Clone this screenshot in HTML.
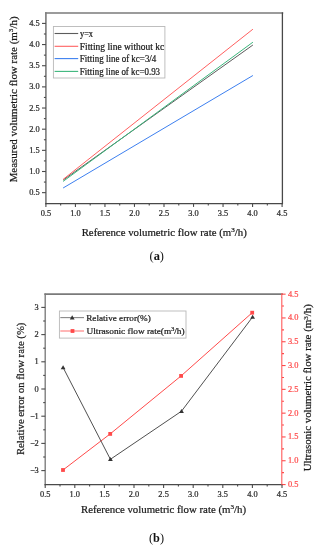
<!DOCTYPE html>
<html><head><meta charset="utf-8"><title>Figure</title>
<style>
html,body{margin:0;padding:0;background:#fff;}
body{width:324px;height:550px;overflow:hidden;}
svg{display:block;}
text{font-family:"Liberation Serif", "DejaVu Serif", serif;stroke-width:0.22px;}
.tk{font-size:8.4px;fill:#2a2a2a;stroke:#2a2a2a;}
</style></head>
<body>
<svg width="324" height="550" viewBox="0 0 324 550">
<rect width="324" height="550" fill="#fff"/>
<line x1="45.90" y1="13.00" x2="282.40" y2="13.00" stroke="#7a7a7a" stroke-width="1.7" stroke-linecap="square"/>
<line x1="282.40" y1="13.00" x2="282.40" y2="203.50" stroke="#484848" stroke-width="1.3" stroke-linecap="square"/>
<line x1="45.90" y1="13.00" x2="45.90" y2="203.50" stroke="#7e7e7e" stroke-width="1.65" stroke-linecap="square"/>
<line x1="45.90" y1="203.50" x2="282.40" y2="203.50" stroke="#484848" stroke-width="1.25" stroke-linecap="square"/>
<line x1="42.00" y1="192.65" x2="45.90" y2="192.65" stroke="#4a4a4a" stroke-width="1.1"/>
<text x="39.6" y="195.15" text-anchor="end" class="tk">0.5</text>
<line x1="43.90" y1="182.07" x2="45.90" y2="182.07" stroke="#4a4a4a" stroke-width="1.1"/>
<line x1="42.00" y1="171.50" x2="45.90" y2="171.50" stroke="#4a4a4a" stroke-width="1.1"/>
<text x="39.6" y="174.00" text-anchor="end" class="tk">1.0</text>
<line x1="43.90" y1="160.92" x2="45.90" y2="160.92" stroke="#4a4a4a" stroke-width="1.1"/>
<line x1="42.00" y1="150.34" x2="45.90" y2="150.34" stroke="#4a4a4a" stroke-width="1.1"/>
<text x="39.6" y="152.84" text-anchor="end" class="tk">1.5</text>
<line x1="43.90" y1="139.76" x2="45.90" y2="139.76" stroke="#4a4a4a" stroke-width="1.1"/>
<line x1="42.00" y1="129.19" x2="45.90" y2="129.19" stroke="#4a4a4a" stroke-width="1.1"/>
<text x="39.6" y="131.69" text-anchor="end" class="tk">2.0</text>
<line x1="43.90" y1="118.61" x2="45.90" y2="118.61" stroke="#4a4a4a" stroke-width="1.1"/>
<line x1="42.00" y1="108.03" x2="45.90" y2="108.03" stroke="#4a4a4a" stroke-width="1.1"/>
<text x="39.6" y="110.53" text-anchor="end" class="tk">2.5</text>
<line x1="43.90" y1="97.45" x2="45.90" y2="97.45" stroke="#4a4a4a" stroke-width="1.1"/>
<line x1="42.00" y1="86.88" x2="45.90" y2="86.88" stroke="#4a4a4a" stroke-width="1.1"/>
<text x="39.6" y="89.38" text-anchor="end" class="tk">3.0</text>
<line x1="43.90" y1="76.30" x2="45.90" y2="76.30" stroke="#4a4a4a" stroke-width="1.1"/>
<line x1="42.00" y1="65.72" x2="45.90" y2="65.72" stroke="#4a4a4a" stroke-width="1.1"/>
<text x="39.6" y="68.22" text-anchor="end" class="tk">3.5</text>
<line x1="43.90" y1="55.14" x2="45.90" y2="55.14" stroke="#4a4a4a" stroke-width="1.1"/>
<line x1="42.00" y1="44.56" x2="45.90" y2="44.56" stroke="#4a4a4a" stroke-width="1.1"/>
<text x="39.6" y="47.06" text-anchor="end" class="tk">4.0</text>
<line x1="43.90" y1="33.99" x2="45.90" y2="33.99" stroke="#4a4a4a" stroke-width="1.1"/>
<line x1="42.00" y1="23.41" x2="45.90" y2="23.41" stroke="#4a4a4a" stroke-width="1.1"/>
<text x="39.6" y="25.91" text-anchor="end" class="tk">4.5</text>
<line x1="45.90" y1="203.50" x2="45.90" y2="206.90" stroke="#4a4a4a" stroke-width="1.1"/>
<text x="45.90" y="215.7" text-anchor="middle" class="tk">0.5</text>
<line x1="60.66" y1="203.50" x2="60.66" y2="205.50" stroke="#4a4a4a" stroke-width="1.1"/>
<line x1="75.42" y1="203.50" x2="75.42" y2="206.90" stroke="#4a4a4a" stroke-width="1.1"/>
<text x="75.42" y="215.7" text-anchor="middle" class="tk">1.0</text>
<line x1="90.19" y1="203.50" x2="90.19" y2="205.50" stroke="#4a4a4a" stroke-width="1.1"/>
<line x1="104.95" y1="203.50" x2="104.95" y2="206.90" stroke="#4a4a4a" stroke-width="1.1"/>
<text x="104.95" y="215.7" text-anchor="middle" class="tk">1.5</text>
<line x1="119.71" y1="203.50" x2="119.71" y2="205.50" stroke="#4a4a4a" stroke-width="1.1"/>
<line x1="134.47" y1="203.50" x2="134.47" y2="206.90" stroke="#4a4a4a" stroke-width="1.1"/>
<text x="134.47" y="215.7" text-anchor="middle" class="tk">2.0</text>
<line x1="149.24" y1="203.50" x2="149.24" y2="205.50" stroke="#4a4a4a" stroke-width="1.1"/>
<line x1="164.00" y1="203.50" x2="164.00" y2="206.90" stroke="#4a4a4a" stroke-width="1.1"/>
<text x="164.00" y="215.7" text-anchor="middle" class="tk">2.5</text>
<line x1="178.76" y1="203.50" x2="178.76" y2="205.50" stroke="#4a4a4a" stroke-width="1.1"/>
<line x1="193.53" y1="203.50" x2="193.53" y2="206.90" stroke="#4a4a4a" stroke-width="1.1"/>
<text x="193.53" y="215.7" text-anchor="middle" class="tk">3.0</text>
<line x1="208.29" y1="203.50" x2="208.29" y2="205.50" stroke="#4a4a4a" stroke-width="1.1"/>
<line x1="223.05" y1="203.50" x2="223.05" y2="206.90" stroke="#4a4a4a" stroke-width="1.1"/>
<text x="223.05" y="215.7" text-anchor="middle" class="tk">3.5</text>
<line x1="237.81" y1="203.50" x2="237.81" y2="205.50" stroke="#4a4a4a" stroke-width="1.1"/>
<line x1="252.57" y1="203.50" x2="252.57" y2="206.90" stroke="#4a4a4a" stroke-width="1.1"/>
<text x="252.57" y="215.7" text-anchor="middle" class="tk">4.0</text>
<line x1="267.34" y1="203.50" x2="267.34" y2="205.50" stroke="#4a4a4a" stroke-width="1.1"/>
<line x1="282.10" y1="203.50" x2="282.10" y2="206.90" stroke="#4a4a4a" stroke-width="1.1"/>
<text x="282.10" y="215.7" text-anchor="middle" class="tk">4.5</text>
<line x1="63.10" y1="180.10" x2="252.90" y2="45.00" stroke="#5c5c5c" stroke-width="1.0"/>
<line x1="63.10" y1="179.40" x2="252.90" y2="29.20" stroke="#ff6060" stroke-width="1.0"/>
<line x1="63.10" y1="188.00" x2="252.90" y2="75.50" stroke="#3d80f0" stroke-width="1.0"/>
<line x1="63.10" y1="181.40" x2="252.90" y2="42.20" stroke="#3cb67c" stroke-width="1.0"/>
<rect x="53.4" y="26.5" width="111.5" height="51.5" fill="#fff" stroke="#b8b8b8" stroke-width="0.9"/>
<line x1="54.60" y1="33.50" x2="78.20" y2="33.50" stroke="#5c5c5c" stroke-width="1.1"/>
<line x1="54.60" y1="46.30" x2="78.20" y2="46.30" stroke="#ff6060" stroke-width="1.1"/>
<line x1="54.60" y1="58.60" x2="78.20" y2="58.60" stroke="#3d80f0" stroke-width="1.1"/>
<line x1="54.60" y1="71.40" x2="78.20" y2="71.40" stroke="#3cb67c" stroke-width="1.1"/>
<text transform="translate(80.00,36.90) scale(0.8966,1)" font-size="9.3" fill="#1a1a1a" stroke="#1a1a1a">y=x</text>
<text transform="translate(79.85,49.80) scale(1.0182,1)" font-size="9.3" fill="#1a1a1a" stroke="#1a1a1a">Fitting line without kc</text>
<text transform="translate(79.86,62.30) scale(0.9646,1)" font-size="9.3" fill="#1a1a1a" stroke="#1a1a1a">Fitting line of kc=3/4</text>
<text transform="translate(79.86,74.90) scale(0.9586,1)" font-size="9.3" fill="#1a1a1a" stroke="#1a1a1a">Fitting line of kc=0.93</text>
<text transform="translate(81.64,235.70) scale(1.0208,1)" font-size="10.6" fill="#1a1a1a" stroke="#1a1a1a">Reference volumetric flow rate (m<tspan font-size='7.00' dy='-3.82'>3</tspan><tspan dy='3.82'>/h)</tspan></text>
<text transform="translate(17.20,182.36) rotate(-90) scale(1.0535,1)" font-size="10.4" fill="#1a1a1a" stroke="#1a1a1a">Measured volumetric flow rate (m<tspan font-size='6.86' dy='-3.74'>3</tspan><tspan dy='3.74'>/h)</tspan></text>
<text style="stroke-width:0" transform="translate(149.50,259.80) scale(0.9926,1)" font-size="12.5" fill="#111" stroke="#111">(<tspan font-weight='bold'>a</tspan>)</text>
<line x1="45.20" y1="294.10" x2="282.00" y2="294.10" stroke="#7a7a7a" stroke-width="1.7" stroke-linecap="square"/>
<line x1="45.20" y1="294.10" x2="45.20" y2="484.55" stroke="#7a7a7a" stroke-width="1.35" stroke-linecap="square"/>
<line x1="45.20" y1="484.55" x2="282.00" y2="484.55" stroke="#4a4a4a" stroke-width="1.25" stroke-linecap="square"/>
<line x1="281.8" y1="293.3" x2="281.8" y2="485.35" stroke="#ff5a5a" stroke-width="1.1"/>
<line x1="41.30" y1="470.60" x2="45.20" y2="470.60" stroke="#4a4a4a" stroke-width="1.1"/>
<text x="38.7" y="473.10" text-anchor="end" class="tk">−<tspan dx="-0.7">3</tspan></text>
<line x1="41.30" y1="443.40" x2="45.20" y2="443.40" stroke="#4a4a4a" stroke-width="1.1"/>
<text x="38.7" y="445.90" text-anchor="end" class="tk">−<tspan dx="-0.7">2</tspan></text>
<line x1="41.30" y1="416.20" x2="45.20" y2="416.20" stroke="#4a4a4a" stroke-width="1.1"/>
<text x="38.7" y="418.70" text-anchor="end" class="tk">−<tspan dx="-0.7">1</tspan></text>
<line x1="41.30" y1="389.00" x2="45.20" y2="389.00" stroke="#4a4a4a" stroke-width="1.1"/>
<text x="38.7" y="391.50" text-anchor="end" class="tk">0</text>
<line x1="41.30" y1="361.80" x2="45.20" y2="361.80" stroke="#4a4a4a" stroke-width="1.1"/>
<text x="38.7" y="364.30" text-anchor="end" class="tk">1</text>
<line x1="41.30" y1="334.60" x2="45.20" y2="334.60" stroke="#4a4a4a" stroke-width="1.1"/>
<text x="38.7" y="337.10" text-anchor="end" class="tk">2</text>
<line x1="41.30" y1="307.40" x2="45.20" y2="307.40" stroke="#4a4a4a" stroke-width="1.1"/>
<text x="38.7" y="309.90" text-anchor="end" class="tk">3</text>
<line x1="43.20" y1="457.00" x2="45.20" y2="457.00" stroke="#4a4a4a" stroke-width="1.1"/>
<line x1="43.20" y1="429.80" x2="45.20" y2="429.80" stroke="#4a4a4a" stroke-width="1.1"/>
<line x1="43.20" y1="402.60" x2="45.20" y2="402.60" stroke="#4a4a4a" stroke-width="1.1"/>
<line x1="43.20" y1="375.40" x2="45.20" y2="375.40" stroke="#4a4a4a" stroke-width="1.1"/>
<line x1="43.20" y1="348.20" x2="45.20" y2="348.20" stroke="#4a4a4a" stroke-width="1.1"/>
<line x1="43.20" y1="321.00" x2="45.20" y2="321.00" stroke="#4a4a4a" stroke-width="1.1"/>
<line x1="282.00" y1="484.55" x2="285.60" y2="484.55" stroke="#ff4a4a" stroke-width="1.1"/>
<text x="287.9" y="486.95" class="tk" style="fill:#ff4a4a;stroke:#ff4a4a">0.5</text>
<line x1="282.00" y1="472.65" x2="284.00" y2="472.65" stroke="#ff4a4a" stroke-width="1.1"/>
<line x1="282.00" y1="460.75" x2="285.60" y2="460.75" stroke="#ff4a4a" stroke-width="1.1"/>
<text x="287.9" y="463.15" class="tk" style="fill:#ff4a4a;stroke:#ff4a4a">1.0</text>
<line x1="282.00" y1="448.85" x2="284.00" y2="448.85" stroke="#ff4a4a" stroke-width="1.1"/>
<line x1="282.00" y1="436.95" x2="285.60" y2="436.95" stroke="#ff4a4a" stroke-width="1.1"/>
<text x="287.9" y="439.35" class="tk" style="fill:#ff4a4a;stroke:#ff4a4a">1.5</text>
<line x1="282.00" y1="425.05" x2="284.00" y2="425.05" stroke="#ff4a4a" stroke-width="1.1"/>
<line x1="282.00" y1="413.15" x2="285.60" y2="413.15" stroke="#ff4a4a" stroke-width="1.1"/>
<text x="287.9" y="415.55" class="tk" style="fill:#ff4a4a;stroke:#ff4a4a">2.0</text>
<line x1="282.00" y1="401.25" x2="284.00" y2="401.25" stroke="#ff4a4a" stroke-width="1.1"/>
<line x1="282.00" y1="389.35" x2="285.60" y2="389.35" stroke="#ff4a4a" stroke-width="1.1"/>
<text x="287.9" y="391.75" class="tk" style="fill:#ff4a4a;stroke:#ff4a4a">2.5</text>
<line x1="282.00" y1="377.45" x2="284.00" y2="377.45" stroke="#ff4a4a" stroke-width="1.1"/>
<line x1="282.00" y1="365.55" x2="285.60" y2="365.55" stroke="#ff4a4a" stroke-width="1.1"/>
<text x="287.9" y="367.95" class="tk" style="fill:#ff4a4a;stroke:#ff4a4a">3.0</text>
<line x1="282.00" y1="353.65" x2="284.00" y2="353.65" stroke="#ff4a4a" stroke-width="1.1"/>
<line x1="282.00" y1="341.75" x2="285.60" y2="341.75" stroke="#ff4a4a" stroke-width="1.1"/>
<text x="287.9" y="344.15" class="tk" style="fill:#ff4a4a;stroke:#ff4a4a">3.5</text>
<line x1="282.00" y1="329.85" x2="284.00" y2="329.85" stroke="#ff4a4a" stroke-width="1.1"/>
<line x1="282.00" y1="317.95" x2="285.60" y2="317.95" stroke="#ff4a4a" stroke-width="1.1"/>
<text x="287.9" y="320.35" class="tk" style="fill:#ff4a4a;stroke:#ff4a4a">4.0</text>
<line x1="282.00" y1="306.05" x2="284.00" y2="306.05" stroke="#ff4a4a" stroke-width="1.1"/>
<line x1="282.00" y1="294.15" x2="285.60" y2="294.15" stroke="#ff4a4a" stroke-width="1.1"/>
<text x="287.9" y="296.55" class="tk" style="fill:#ff4a4a;stroke:#ff4a4a">4.5</text>
<line x1="45.20" y1="484.55" x2="45.20" y2="487.95" stroke="#4a4a4a" stroke-width="1.1"/>
<text x="45.20" y="496.6" text-anchor="middle" class="tk">0.5</text>
<line x1="60.00" y1="484.55" x2="60.00" y2="486.55" stroke="#4a4a4a" stroke-width="1.1"/>
<line x1="74.80" y1="484.55" x2="74.80" y2="487.95" stroke="#4a4a4a" stroke-width="1.1"/>
<text x="74.80" y="496.6" text-anchor="middle" class="tk">1.0</text>
<line x1="89.60" y1="484.55" x2="89.60" y2="486.55" stroke="#4a4a4a" stroke-width="1.1"/>
<line x1="104.40" y1="484.55" x2="104.40" y2="487.95" stroke="#4a4a4a" stroke-width="1.1"/>
<text x="104.40" y="496.6" text-anchor="middle" class="tk">1.5</text>
<line x1="119.20" y1="484.55" x2="119.20" y2="486.55" stroke="#4a4a4a" stroke-width="1.1"/>
<line x1="134.00" y1="484.55" x2="134.00" y2="487.95" stroke="#4a4a4a" stroke-width="1.1"/>
<text x="134.00" y="496.6" text-anchor="middle" class="tk">2.0</text>
<line x1="148.80" y1="484.55" x2="148.80" y2="486.55" stroke="#4a4a4a" stroke-width="1.1"/>
<line x1="163.60" y1="484.55" x2="163.60" y2="487.95" stroke="#4a4a4a" stroke-width="1.1"/>
<text x="163.60" y="496.6" text-anchor="middle" class="tk">2.5</text>
<line x1="178.40" y1="484.55" x2="178.40" y2="486.55" stroke="#4a4a4a" stroke-width="1.1"/>
<line x1="193.20" y1="484.55" x2="193.20" y2="487.95" stroke="#4a4a4a" stroke-width="1.1"/>
<text x="193.20" y="496.6" text-anchor="middle" class="tk">3.0</text>
<line x1="208.00" y1="484.55" x2="208.00" y2="486.55" stroke="#4a4a4a" stroke-width="1.1"/>
<line x1="222.80" y1="484.55" x2="222.80" y2="487.95" stroke="#4a4a4a" stroke-width="1.1"/>
<text x="222.80" y="496.6" text-anchor="middle" class="tk">3.5</text>
<line x1="237.60" y1="484.55" x2="237.60" y2="486.55" stroke="#4a4a4a" stroke-width="1.1"/>
<line x1="252.40" y1="484.55" x2="252.40" y2="487.95" stroke="#4a4a4a" stroke-width="1.1"/>
<text x="252.40" y="496.6" text-anchor="middle" class="tk">4.0</text>
<line x1="267.20" y1="484.55" x2="267.20" y2="486.55" stroke="#4a4a4a" stroke-width="1.1"/>
<line x1="282.00" y1="484.55" x2="282.00" y2="487.95" stroke="#4a4a4a" stroke-width="1.1"/>
<text x="282.00" y="496.6" text-anchor="middle" class="tk">4.5</text>
<polyline points="63.0,470.0 110.2,433.9 181.1,375.9 252.2,312.7" fill="none" stroke="#ff4a4a" stroke-width="1"/>
<polyline points="63.1,367.5 110.4,459.3 181.5,411.2 252.6,317.0" fill="none" stroke="#505050" stroke-width="1"/>
<polygon points="60.70,369.30 65.50,369.30 63.10,365.20" fill="#333"/>
<polygon points="108.00,461.10 112.80,461.10 110.40,457.00" fill="#333"/>
<polygon points="179.10,413.00 183.90,413.00 181.50,408.90" fill="#333"/>
<polygon points="250.20,318.80 255.00,318.80 252.60,314.70" fill="#333"/>
<rect x="61.10" y="468.10" width="3.8" height="3.8" fill="#ff4a4a"/>
<rect x="108.30" y="432.00" width="3.8" height="3.8" fill="#ff4a4a"/>
<rect x="179.20" y="374.00" width="3.8" height="3.8" fill="#ff4a4a"/>
<rect x="250.30" y="310.80" width="3.8" height="3.8" fill="#ff4a4a"/>
<rect x="59.4" y="311.0" width="126.6" height="27.1" fill="#fff" stroke="#b8b8b8" stroke-width="0.9"/>
<line x1="60.30" y1="317.60" x2="84.00" y2="317.60" stroke="#888" stroke-width="1.1"/>
<polygon points="69.80,319.40 74.60,319.40 72.20,315.30" fill="#333"/>
<line x1="60.30" y1="331.00" x2="84.00" y2="331.00" stroke="#ff7a7a" stroke-width="1.1"/>
<rect x="70.60" y="329.10" width="3.8" height="3.8" fill="#ff4a4a"/>
<text transform="translate(86.24,321.20) scale(1.0449,1)" font-size="8.8" fill="#1a1a1a" stroke="#1a1a1a">Relative error(%)</text>
<text transform="translate(86.50,334.00) scale(1.0584,1)" font-size="8.8" fill="#1a1a1a" stroke="#1a1a1a">Ultrasonic flow rate(m<tspan font-size='5.81' dy='-3.17'>3</tspan><tspan dy='3.17'>/h)</tspan></text>
<text transform="translate(80.95,513.10) scale(1.0027,1)" font-size="10.8" fill="#1a1a1a" stroke="#1a1a1a">Reference volumetric flow rate (m<tspan font-size='7.13' dy='-3.89'>3</tspan><tspan dy='3.89'>/h)</tspan></text>
<text transform="translate(24.00,455.06) rotate(-90) scale(1.0217,1)" font-size="10.5" fill="#1a1a1a" stroke="#1a1a1a">Relative error on flow rate (%)</text>
<text transform="translate(311.30,471.26) rotate(-90) scale(1.0567,1)" font-size="10.3" fill="#1a1a1a" stroke="#1a1a1a">Ultrasonic volumetric flow rate (m<tspan font-size='6.80' dy='-3.71'>3</tspan><tspan dy='3.71'>/h)</tspan></text>
<text style="stroke-width:0" transform="translate(149.01,541.70) scale(0.9825,1)" font-size="12.5" fill="#111" stroke="#111">(<tspan font-weight='bold'>b</tspan>)</text>
</svg>
</body></html>
